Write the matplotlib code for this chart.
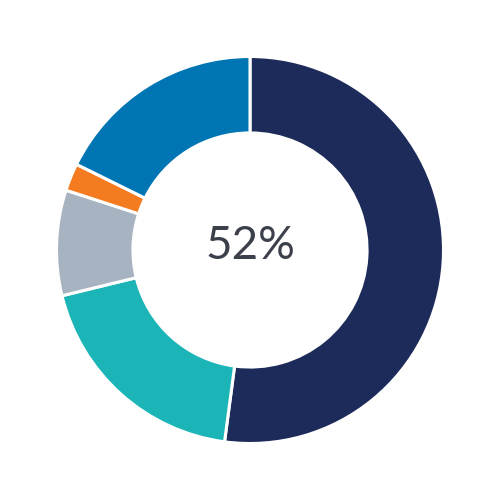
import matplotlib
matplotlib.use("Agg")
import matplotlib.pyplot as plt

labels = ["Navy", "Teal", "Gray", "Orange", "Blue"]
values = [52.1, 19.1, 8.8, 2.3, 17.7]
colors = ["#1c2b59", "#1cb5b7", "#a8b3c1", "#f47b20", "#0075b3"]
center_text = "52%"

fig = plt.figure(figsize=(5, 5), dpi=100)
ax = fig.add_axes([0, 0, 1, 1])
ax.pie(values, colors=colors, startangle=90, counterclock=False, radius=1,
       wedgeprops=dict(width=0.395, edgecolor="white", linewidth=2.2))
ax.text(0, 0.02, center_text, ha="center", va="center", fontsize=33,
        color="#3b404b", family=["Lato", "DejaVu Sans"])
lim = 250 / 193.5
ax.set_xlim(-lim, lim)
ax.set_ylim(-lim, lim)
ax.set_aspect("equal")
ax.axis("off")
fig.savefig("out.png", dpi=100, facecolor="white")
